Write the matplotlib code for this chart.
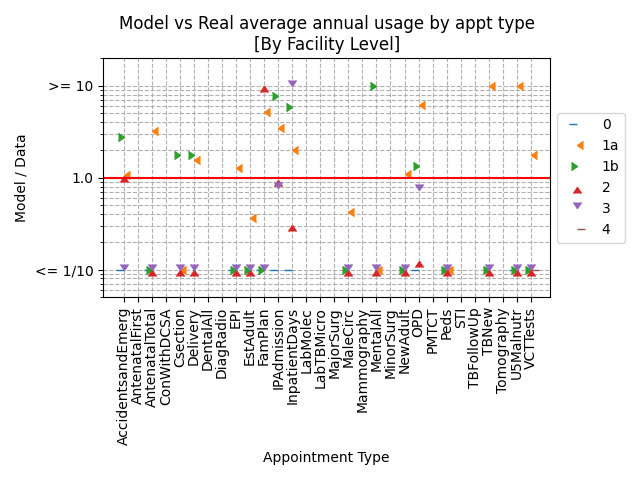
import numpy as np
import matplotlib
matplotlib.use('Agg')
from matplotlib import pyplot as plt

appt_types = ['AccidentsandEmerg', 'AntenatalFirst', 'AntenatalTotal', 'ConWithDCSA', 'Csection',
              'Delivery', 'DentalAll', 'DiagRadio', 'EPI', 'EstAdult', 'FamPlan', 'IPAdmission',
              'InpatientDays', 'LabMolec', 'LabTBMicro', 'MajorSurg', 'MaleCirc', 'Mammography',
              'MentalAll', 'MinorSurg', 'NewAdult', 'OPD', 'PMTCT', 'Peds', 'STI', 'TBFollowUp',
              'TBNew', 'Tomography', 'U5Malnutr', 'VCTTests']

N = None
# model / data ratio, clipped to [1/10, 10]
level_0 = [0.1, N, 0.1, N, N, N, N, N, 0.1, N, 0.1, 0.1, 0.1, N, N,
           N, N, N, N, N, N, 0.1, N, N, N, N, N, N, 0.1, N]
level_1a = [1.08, N, 3.24, N, 0.1, 1.56, N, N, 1.28, 0.365, 5.18, 3.47, 2.02, N, N,
            N, 0.42, N, 0.1, N, 1.105, 6.17, N, 0.1, N, N, 10, N, 10, 1.78]
level_1b = [2.77, N, 0.1, N, 1.77, 1.77, N, N, 0.1, 0.1, 0.1, 7.78, 5.87, N, N,
            N, 0.1, N, 10, N, 0.1, 1.33, N, 0.1, N, N, 0.1, N, 0.1, 0.1]
level_2 = [1.05, N, 0.1, N, 0.1, 0.1, N, N, 0.1, 0.1, 10, 0.95, 0.306, N, N,
           N, 0.1, N, 0.1, N, 0.1, 0.125, N, 0.1, N, N, 0.1, N, 0.1, 0.1]
level_3 = [0.1, N, 0.1, N, 0.1, 0.1, N, N, 0.1, 0.1, 0.1, 0.77, 10, N, N,
           N, 0.1, N, 0.1, N, 0.1, 0.735, N, 0.1, N, N, 0.1, N, 0.1, 0.1]
level_4 = [N, N, N, N, N, N, N, N, N, N, N, N, N, N, N,
           N, N, N, N, N, N, N, N, N, N, N, N, N, N, 0.1]

levels = ['0', '1a', '1b', '2', '3', '4']
level_data = [level_0, level_1a, level_1b, level_2, level_3, level_4]
marker_dict = {'0': 0, '1a': 4, '1b': 5, '2': 6, '3': 7, '4': 1}

x = np.arange(len(appt_types))

fig, ax = plt.subplots(figsize=(6.4, 4.8), dpi=100)
for _level, vals in zip(levels, level_data):
    y = np.array([np.nan if v is None else v for v in vals], dtype=float)
    ax.plot(x, y, marker=marker_dict[_level], linestyle='none', label=_level)
ax.axhline(1.0, color='r')

ax.set_title('Model vs Real average annual usage by appt type\n[By Facility Level]')
ax.set_yscale('log')
ax.set_ylim(1 / 20, 20)
ax.set_yticks([1 / 10, 1.0, 10])
ax.set_yticklabels(('<= 1/10', '1.0', '>= 10'))
ax.set_xticks(x)
ax.set_xticklabels(appt_types)
ax.set_xlim(-1.47, len(appt_types) - 1 + 1.38)
ax.set_ylabel('Model / Data')
ax.set_xlabel('Appointment Type')
ax.tick_params(axis='x', labelrotation=90)
ax.xaxis.grid(True, which='major', linestyle='--')
ax.yaxis.grid(True, which='both', linestyle='--')
ax.legend(loc='center left', bbox_to_anchor=(1, 0.5))
fig.tight_layout()
fig.savefig('out.png')
